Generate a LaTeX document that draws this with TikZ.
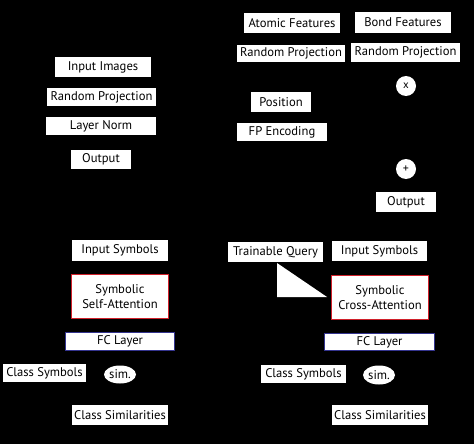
\documentclass[tikz,border=0pt]{standalone}
\usepackage{fontspec}
\setmainfont{PT Sans}
\usetikzlibrary{shapes.geometric}
\definecolor{attred}{HTML}{D0202A}
\definecolor{fcblue}{HTML}{34348F}
\tikzset{
  wbox/.style={fill=white, inner sep=0pt, font=\fontsize{12.6}{14.5}\selectfont, text=black, align=center},
  opcirc/.style={circle, fill=white, inner sep=0pt, minimum size=20pt, font=\fontsize{11}{12}\selectfont},
  simell/.style={ellipse, fill=white, inner sep=0pt, minimum width=32pt, minimum height=18pt, font=\fontsize{12.6}{14}\selectfont},
  attbox/.style={wbox, draw=attred, line width=1.2pt},
  fcbox/.style={wbox, draw=fcblue, line width=1.2pt},
}
\begin{document}
\begin{tikzpicture}[x=1pt,y=-1pt]
\fill[black] (0,0) rectangle (474,444);
\useasboundingbox (0,0) rectangle (474,444);
% left top column
\node[wbox, minimum width=96pt, minimum height=20pt] (inimg) at (103,67) {Input Images};
\node[wbox, minimum width=109pt, minimum height=18pt] (rpl) at (101.5,97) {Random Projection};
\node[wbox, minimum width=110pt, minimum height=18pt] (ln) at (101,126) {Layer Norm};
\node[wbox, minimum width=60pt, minimum height=19pt] (outl) at (101,159.5) {Output};
% right top
\node[wbox, minimum width=96pt, minimum height=20pt] (atom) at (292,23) {Atomic Features};
\node[wbox, minimum width=96pt, minimum height=21pt] (bond) at (403,22.5) {Bond Features};
\node[wbox, minimum width=108pt, minimum height=17pt] (rpm) at (291,53.5) {Random Projection};
\node[wbox, minimum width=109pt, minimum height=19pt] (rpr) at (405.5,52.5) {Random Projection};
\node[opcirc] (mul) at (406,86) {x};
\node[wbox, minimum width=60pt, minimum height=20pt] (pos) at (281,102) {Position};
\node[wbox, minimum width=90pt, minimum height=18pt] (fpe) at (282,132) {FP Encoding};
\node[opcirc, font=\fontsize{12}{13}\selectfont] (add) at (406,169) {+};
\node[wbox, minimum width=60pt, minimum height=20pt] (outr) at (406,202) {Output};
% bottom left
\node[wbox, minimum width=96pt, minimum height=21pt] (insl) at (120,250.5) {Input Symbols};
\node[attbox, minimum width=97pt, minimum height=44pt] (selfatt) at (120,296.5) {Symbolic\\Self-Attention};
\node[fcbox, minimum width=109pt, minimum height=18pt] (fcl) at (120,341.5) {FC Layer};
\node[wbox, minimum width=83pt, minimum height=18pt] (csl) at (44.5,373) {Class Symbols};
\node[simell] (siml) at (120,374.5) {sim.};
\node[wbox, minimum width=96pt, minimum height=20pt] (cqsl) at (120,415) {Class Similarities};
% bottom right
\node[wbox, minimum width=95pt, minimum height=20pt] (tq) at (275.5,252) {Trainable Query};
\node[wbox, minimum width=95pt, minimum height=20pt] (insr) at (379.5,251) {Input Symbols};
\node[attbox, minimum width=97pt, minimum height=44pt] (crossatt) at (380,297.5) {Symbolic\\Cross-Attention};
\node[fcbox, minimum width=110pt, minimum height=17pt] (fcr) at (379.5,342) {FC Layer};
\node[wbox, minimum width=85pt, minimum height=18pt] (csr) at (303.5,374) {Class Symbols};
\node[simell, minimum height=19pt] (simr) at (379,375) {sim.};
\node[wbox, minimum width=96pt, minimum height=20pt] (cqsr) at (380,415) {Class Similarities};
% wedge from trainable query towards cross-attention
\coordinate (wtop) at (277,263);
\coordinate (wbl) at (277,297);
\coordinate (wbr) at (327,297);
\fill[white] (wtop) -- (wbl) -- (wbr) -- cycle;
\end{tikzpicture}
\end{document}
